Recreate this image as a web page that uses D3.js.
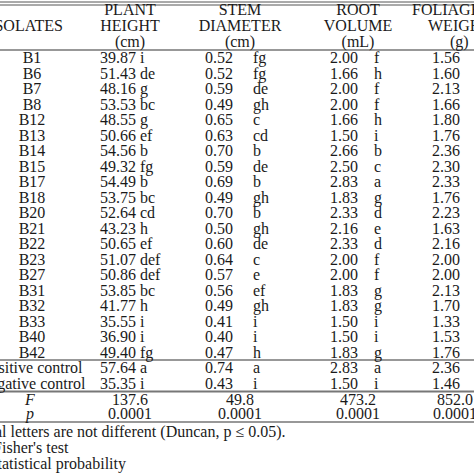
<!DOCTYPE html>
<html>
<head>
<meta charset="UTF-8">
<script src="https://cdn.jsdelivr.net/npm/d3@7"></script>
<style>
  body { margin:0; background:#fff; overflow:hidden; }
  text { font-family:"Liberation Serif","DejaVu Serif",serif; font-size:16px; fill:#1a1a1a; }
</style>
</head>
<body>
<script>
// table data
var isolates = ["B1","B6","B7","B8","B12","B13","B14","B15","B17","B18","B20","B21","B22","B23","B27","B31","B32","B33","B40","B42","Positive control","Negative control"];
var heightVals = [39.87,51.43,48.16,53.53,48.55,50.66,54.56,49.32,54.49,53.75,52.64,43.23,50.65,51.07,50.86,53.85,41.77,35.55,36.90,49.40,57.64,35.35];
var heightGrp = ["i","de","g","bc","g","ef","b","fg","b","bc","cd","h","ef","def","def","bc","h","i","i","fg","a","i"];
var stemVals = [0.52,0.52,0.59,0.49,0.65,0.63,0.70,0.59,0.69,0.49,0.70,0.50,0.60,0.64,0.57,0.56,0.49,0.41,0.40,0.47,0.74,0.43];
var stemGrp = ["fg","fg","de","gh","c","cd","b","de","b","gh","b","gh","de","c","e","ef","gh","i","i","h","a","i"];
var rootVals = [2.00,1.66,2.00,2.00,1.66,1.50,2.66,2.50,2.83,1.83,2.33,2.16,2.33,2.00,2.00,1.83,1.83,1.50,1.50,1.83,2.83,1.50];
var rootGrp = ["f","h","f","f","h","i","b","c","a","g","d","e","d","f","f","g","g","i","i","g","a","i"];
var foliageVals = [1.56,1.60,2.13,1.66,1.80,1.76,2.36,2.30,2.33,1.76,2.23,1.63,2.16,2.00,2.00,2.13,1.70,1.33,1.53,1.76,2.36,1.46];
var headers = [["ISOLATES"],["PLANT","HEIGHT","(cm)"],["STEM","DIAMETER","(cm)"],["ROOT","VOLUME","(mL)"],["FOLIAGE, FRESH","WEIGHT","(g)"]];
var fStats = ["137.6","49.8","473.2","852.0"];
var pStats = ["0.0001","0.0001","0.0001","0.0001"];
var notes = [["Means with equa","l letters are not different (Duncan, p ≤ 0.05)."],["F: F","isher's test"],["p: st","atistical probability"]];

var W = 474, H = 474;
var svg = d3.select("body").append("svg").attr("width", W).attr("height", H);

var y = d3.scaleBand().domain(isolates).range([50.5, 391.5]).paddingOuter(0);
var hy = d3.scaleLinear().domain([0, 2]).range([10, 42]);
var colCenter = [26, 130, 240, 358, 466];
var valX = [100, 205, 330, 432];
var grpX = [140, 253, 374, 478];

function line(yy, w, c) {
  svg.append("line").attr("x1", 0).attr("x2", W).attr("y1", yy).attr("y2", yy)
    .attr("stroke", c || "#333").attr("stroke-width", w || 1);
}
line(2, 1, "#555"); line(5, 1, "#555");
line(50, 1.2);
line(y(isolates[20]) - 0.5, 1.2);
line(y.range()[1], 2, "#777");
line(422, 1.2);

// headers
headers.forEach(function(h, i) {
  var lines = h.length === 1 ? [null, h[0], null] : h;
  lines.forEach(function(t, j) {
    if (t == null) return;
    var tx = svg.append("text").attr("y", hy(j) + 5).text(t);
    if (i === 4) tx.attr("x", [412, 428, 450][j]);
    else tx.attr("x", colCenter[i]).attr("text-anchor", "middle");
  });
});

var rows = svg.selectAll("g.row").data(isolates).enter().append("g")
  .attr("transform", function(d) { return "translate(0," + (y(d) + y.bandwidth() / 2 + 5) + ")"; });
rows.append("text").attr("x", 32).attr("text-anchor", "middle").text(function(d) { return d; });
[[heightVals, heightGrp], [stemVals, stemGrp], [rootVals, rootGrp], [foliageVals, null]].forEach(function(c, k) {
  rows.append("text").attr("x", valX[k]).text(function(d, i) { return c[0][i].toFixed(2); });
  if (c[1]) rows.append("text").attr("x", grpX[k]).text(function(d, i) { return c[1][i]; });
});

svg.append("text").attr("x", 30).attr("y", 405).attr("text-anchor", "middle").style("font-style", "italic").text("F");
svg.append("text").attr("x", 30).attr("y", 419).attr("text-anchor", "middle").style("font-style", "italic").text("p");
fStats.forEach(function(s, i) {
  var cx = i === 3 ? 455 : colCenter[i + 1];
  svg.append("text").attr("x", cx).attr("y", 405).attr("text-anchor", "middle").text(s);
  svg.append("text").attr("x", cx).attr("y", 419).attr("text-anchor", "middle").text(pStats[i]);
});

notes.forEach(function(n, i) {
  var probe = svg.append("text").text(n[0]);
  var off = probe.node().getComputedTextLength();
  probe.remove();
  svg.append("text").attr("x", 2 - off).attr("y", 437 + i * 16).text(n[0] + n[1]);
});
</script>
</body>
</html>
